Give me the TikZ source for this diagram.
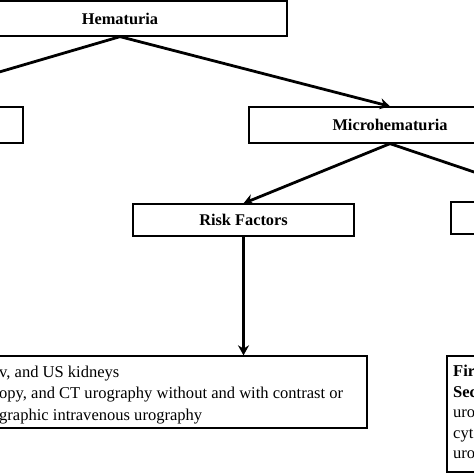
\documentclass[tikz,border=0pt]{standalone}
\usepackage{fontspec}
\setmainfont{Liberation Serif}
\usetikzlibrary{arrows.meta}
\tikzset{
	box/.style={draw,line width=1.3pt,inner sep=0pt,font=\fontsize{16.4}{21}\selectfont\bfseries},
	txt/.style={inner sep=0pt,align=left,font=\fontsize{16.6}{21.3}\selectfont},
	link/.style={->,line width=2.8pt}
}
\begin{document}
\begin{tikzpicture}[>={Stealth[length=10bp,width=11bp]},x=1bp,y=-1bp]
		\useasboundingbox (0,0) rectangle (474,474);
		\clip (0,0) rectangle (474,474);
		\node[box,minimum width=334bp,minimum height=35bp] (hem) at (120,18.5) {Hematuria};
		\node[box,minimum width=282bp,minimum height=36bp] (mac) at (-118,125) {};
		\node[box,minimum width=282bp,minimum height=36bp] (mic) at (390,125) {Microhematuria};
		\node[box,minimum width=221bp,minimum height=32bp] (rf) at (243.5,220) {Risk Factors};
		\node[box,minimum width=220bp,minimum height=32bp] (rt) at (561,218) {};
		\node[box,minimum width=500bp,minimum height=72bp] (tst) at (117,392) {};
		\node[box,minimum width=248bp,minimum height=116bp] (rtst) at (571,414) {};
		\node[txt,anchor=west] (tsttxt) at (-1,395) {v, and US kidneys\\opy, and CT urography without and with contrast or\\graphic intravenous urography};
		\node[txt,anchor=west,font=\fontsize{16.6}{20.5}\selectfont] (rtsttxt) at (453,412) {\textbf{Fir}\\\textbf{Sec}\\uro\\cyt\\uro};
		\draw[link] (hem.south) -- (mac.north);
		\draw[link] (hem.south) -- (mic.north);
		\draw[link] (mic.south) -- (rf.north);
		\draw[link] (mic.south) -- (rt.north);
		\draw[link] (rf.south) -- (rf.south |- tst.north);
\end{tikzpicture}
\end{document}
